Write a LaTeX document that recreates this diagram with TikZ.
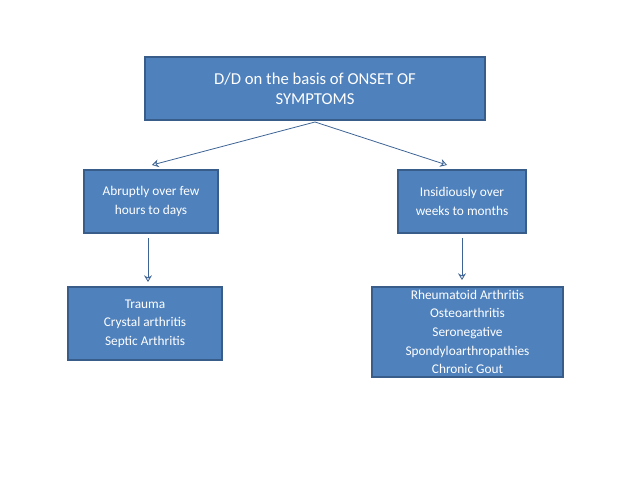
\documentclass[tikz,border=0pt]{standalone}
\usepackage{fontspec}
\setmainfont{Carlito}
\usetikzlibrary{arrows.meta}
\definecolor{boxfill}{HTML}{4F81BD}
\definecolor{boxline}{HTML}{385D8A}
\begin{document}
\begin{tikzpicture}[x=0.75pt,y=-0.75pt,
  box/.style={draw=boxline,fill=boxfill,line width=0.9pt,text=white,align=center,inner sep=0pt},
  conn/.style={draw=boxline!80!boxfill,line width=0.6pt,-{Stealth[length=5pt,width=6pt,open]}}]
\useasboundingbox (0,0) rectangle (638,478);
\node[box,minimum width=340*0.75pt,minimum height=63*0.75pt,font=\fontsize{12.5}{15}\selectfont] (top) at (315,88.5) {D/D on the basis of ONSET OF\\SYMPTOMS};
\node[box,minimum width=134*0.75pt,minimum height=63*0.75pt,font=\fontsize{10}{14}\selectfont] (l) at (151,201.5) {Abruptly over few\\hours to days};
\node[box,minimum width=128*0.75pt,minimum height=63*0.75pt,font=\fontsize{10}{14}\selectfont] (r) at (462,201.5) {Insidiously over\\weeks to months};
\node[box,minimum width=154*0.75pt,minimum height=73*0.75pt,font=\fontsize{10}{14}\selectfont] (lb) at (145,323.5) {Trauma\\Crystal arthritis\\Septic Arthritis};
\node[box,minimum width=191*0.75pt,minimum height=90*0.75pt,font=\fontsize{10}{14}\selectfont] (rb) at (467.5,332) {Rheumatoid Arthritis\\Osteoarthritis\\Seronegative\\Spondyloarthropathies\\Chronic Gout};
\coordinate (ta) at (315,122);
\coordinate (la) at (152,165);
\coordinate (ra) at (447,165);
\coordinate (l1) at (148,238);
\coordinate (l2) at (148,282);
\coordinate (r1) at (462,238);
\coordinate (r2) at (462,280);
\draw[conn] (ta) -- (la);
\draw[conn] (ta) -- (ra);
\draw[conn] (l1) -- (l2);
\draw[conn] (r1) -- (r2);
\end{tikzpicture}
\end{document}
